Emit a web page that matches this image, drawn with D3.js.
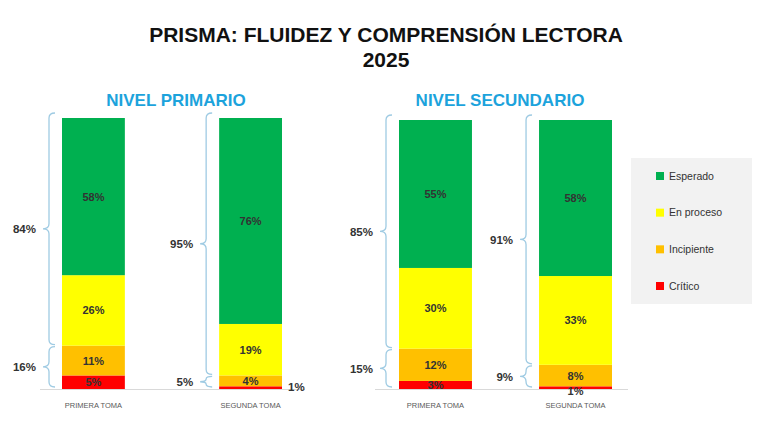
<!DOCTYPE html>
<html><head><meta charset="utf-8">
<script src="https://cdn.jsdelivr.net/npm/d3@7"></script>
<style>html,body{margin:0;padding:0;background:#fff;}svg{display:block;font-family:"Liberation Sans",Arial,sans-serif;}</style>
</head><body>
<svg id="c" width="768" height="432"></svg>
<script>
const categories = ["PRIMERA TOMA", "SEGUNDA TOMA"];
const levels = ["Esperado", "En proceso", "Incipiente", "Crítico"];
const levelColors = ["#00b050", "#ffff00", "#ffc000", "#ff0000"];
// values per level, per toma
const primarioEsperado = [58, 76];
const primarioEnProceso = [26, 19];
const primarioIncipiente = [11, 4];
const primarioCritico = [5, 1];
const secundarioEsperado = [55, 58];
const secundarioEnProceso = [30, 33];
const secundarioIncipiente = [12, 8];
const secundarioCritico = [3, 1];
// bracket totals
const primarioSuperior = [84, 95];
const primarioInferior = [16, 5];
const secundarioSuperior = [85, 91];
const secundarioInferior = [15, 9];

const svg = d3.select("#c");

svg.append("text").attr("x", 386).attr("y", 42).attr("text-anchor", "middle")
  .attr("font-size", 21).attr("font-weight", "bold").attr("fill", "#111")
  .text("PRISMA: FLUIDEZ Y COMPRENSIÓN LECTORA");
svg.append("text").attr("x", 386).attr("y", 67).attr("text-anchor", "middle")
  .attr("font-size", 21).attr("font-weight", "bold").attr("fill", "#111")
  .text("2025");

const panels = [
  { title: "NIVEL PRIMARIO", tx: 176, range: [62, 282], pad: 0.6, top: 118,
    series: [primarioEsperado, primarioEnProceso, primarioIncipiente, primarioCritico],
    sup: primarioSuperior, inf: primarioInferior, line: [40, 305] },
  { title: "NIVEL SECUNDARIO", tx: 500, range: [399, 612], pad: 0.479, top: 120,
    series: [secundarioEsperado, secundarioEnProceso, secundarioIncipiente, secundarioCritico],
    sup: secundarioSuperior, inf: secundarioInferior, line: [375, 628] }
];

const bottom = 389;
const braceColor = "#9fcbe3";

function brace(x, y1, y2) {
  const ym = (y1 + y2) / 2;
  const w = Math.min(5, (y2 - y1) / 4);
  const t = 6;
  return `M${x + 6},${y1} Q${x},${y1} ${x},${y1 + w} L${x},${ym - w} Q${x},${ym} ${x - t},${ym} Q${x},${ym} ${x},${ym + w} L${x},${y2 - w} Q${x},${y2} ${x + 6},${y2}`;
}

panels.forEach(p => {
  const x = d3.scaleBand().domain(categories).range(p.range).paddingInner(p.pad).paddingOuter(0);
  const y = d3.scaleLinear().domain([0, 100]).range([bottom, p.top]);

  svg.append("text").attr("x", p.tx).attr("y", 106).attr("text-anchor", "middle")
    .attr("font-size", 17).attr("font-weight", "bold").attr("fill", "#1ca3dc").text(p.title);

  svg.append("line").attr("x1", p.line[0]).attr("x2", p.line[1]).attr("y1", bottom + 0.5).attr("y2", bottom + 0.5)
    .attr("stroke", "#d9d9d9").attr("stroke-width", 1);

  const data = categories.map((c, i) => {
    let cum = 0;
    const segs = [];
    // stack from the bottom: Crítico first, Esperado on top
    for (let k = p.series.length - 1; k >= 0; k--) {
      const v = p.series[k][i];
      segs.push({ k, v, y0: cum, y1: cum + v });
      cum += v;
    }
    return { cat: c, i, segs };
  });

  const g = svg.append("g");
  data.forEach(d => {
    const bx = x(d.cat), bw = x.bandwidth();
    g.selectAll(null).data(d.segs).enter().append("rect")
      .attr("x", bx).attr("width", bw)
      .attr("y", s => y(s.y1)).attr("height", s => y(s.y0) - y(s.y1))
      .attr("fill", s => levelColors[s.k]);

    d.segs.forEach(s => {
      let lx = bx + bw / 2, ly = (y(s.y0) + y(s.y1)) / 2, anchor = "middle", fs = 11;
      if (s.k === 3 && s.v <= 1 && p.title === "NIVEL PRIMARIO") { lx = bx + bw + 6; anchor = "start"; fs = 11.5; ly -= 1; }
      if (s.k === 3 && s.v <= 1 && p.title !== "NIVEL PRIMARIO") { ly += 3; }
      g.append("text").attr("x", lx).attr("y", ly).attr("dy", "0.36em")
        .attr("text-anchor", anchor).attr("font-size", fs).attr("font-weight", "bold")
        .attr("fill", "#333").text(s.v + "%");
    });

    const bxp = bx - 13;
    const ySplit = y(d.segs[1].y1);
    const supTop = y(100) - 5;
    g.append("path").attr("d", brace(bxp, supTop, ySplit - 1)).attr("fill", "none")
      .attr("stroke", braceColor).attr("stroke-width", 1.3);
    g.append("path").attr("d", brace(bxp, ySplit + 1, bottom - 2)).attr("fill", "none")
      .attr("stroke", braceColor).attr("stroke-width", 1.3);
    g.append("text").attr("x", bxp - 13).attr("y", (supTop + ySplit) / 2).attr("dy", "0.36em")
      .attr("text-anchor", "end").attr("font-size", 11.5).attr("font-weight", "bold").attr("fill", "#333")
      .text(p.sup[d.i] + "%");
    g.append("text").attr("x", bxp - 13).attr("y", (ySplit + bottom) / 2).attr("dy", "0.36em")
      .attr("text-anchor", "end").attr("font-size", 11.5).attr("font-weight", "bold").attr("fill", "#333")
      .text(p.inf[d.i] + "%");

    g.append("text").attr("x", bx + bw / 2).attr("y", 408).attr("text-anchor", "middle")
      .attr("font-size", 7.5).attr("fill", "#595959").text(d.cat);
  });
});

const lg = svg.append("g");
lg.append("rect").attr("x", 631).attr("y", 158).attr("width", 121).attr("height", 146).attr("fill", "#f2f2f2");
const ly = d3.scalePoint().domain(levels).range([176, 286]);
levels.forEach((l, i) => {
  lg.append("rect").attr("x", 656).attr("y", ly(l) - 4).attr("width", 8).attr("height", 8).attr("fill", levelColors[i]);
  lg.append("text").attr("x", 669).attr("y", ly(l)).attr("dy", "0.36em").attr("font-size", 10.5)
    .attr("fill", "#333").text(l);
});
</script>
</body></html>
